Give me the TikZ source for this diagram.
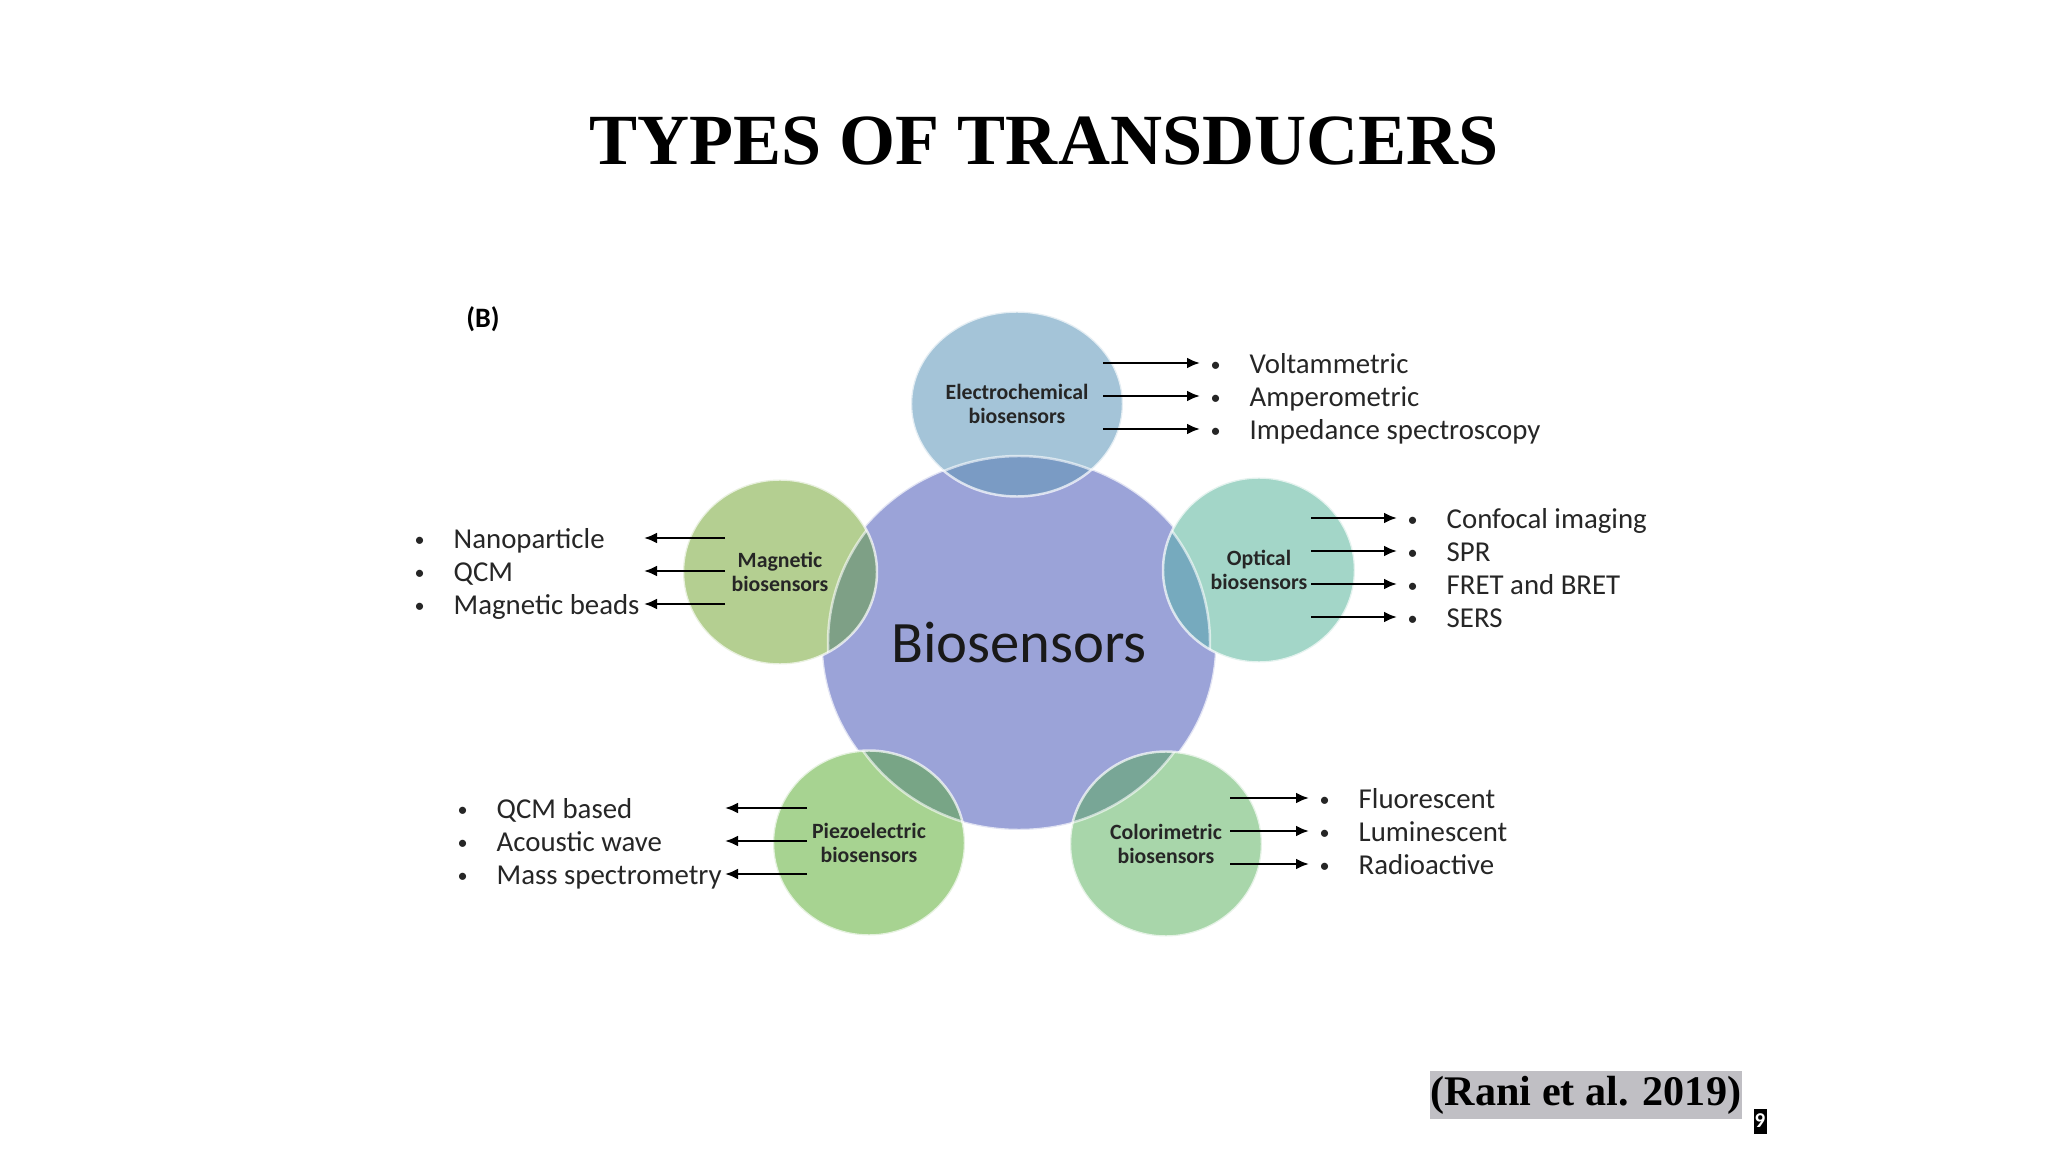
\documentclass[tikz,border=0pt]{standalone}
\usepackage{fontspec}
\setmainfont{Carlito}
\newfontfamily\timesfont{Liberation Serif}
\usetikzlibrary{shapes.geometric,arrows.meta}

\definecolor{corecol}{RGB}{155,163,216}
\definecolor{eleccol}{RGB}{164,196,216}
\definecolor{elecdark}{RGB}{122,155,196}
\definecolor{magcol}{RGB}{180,207,145}
\definecolor{magdark}{RGB}{126,160,134}
\definecolor{optcol}{RGB}{163,214,200}
\definecolor{optdark}{RGB}{118,170,190}
\definecolor{piecol}{RGB}{167,211,145}
\definecolor{piedark}{RGB}{120,165,134}
\definecolor{colcol}{RGB}{168,214,170}
\definecolor{coldark}{RGB}{120,166,150}
\definecolor{citegray}{RGB}{192,191,196}

\tikzset{
  bubble/.style={ellipse, minimum width=1.92cm, minimum height=1.85cm, inner sep=0pt,
    align=center, text=black!85, font=\bfseries\fontsize{6.2}{6.6}\selectfont,
    draw=white, draw opacity=0.7, line width=0.7pt},
  overlap/.style={path picture={
    \fill[#1] (core.center) ellipse [x radius=1.91cm, y radius=1.87cm];
    \draw[white, opacity=0.6, line width=0.7pt] (core.center) ellipse [x radius=1.91cm, y radius=1.87cm];}},
  listitem/.style={anchor=west, inner xsep=0.1cm, inner ysep=0pt, text height=1.5ex, text depth=0.25ex,
    font=\fontsize{8.2}{9.8}\selectfont, text=black!85},
  arr/.style={-{Latex[length=1.3mm,width=1.1mm]}, line width=0.75pt},
}
\newcommand{\blt}[1]{\makebox[0.39cm][l]{\raisebox{0.12ex}{\scalebox{0.7}{\textbullet}}}#1}

\begin{document}
\begin{tikzpicture}
  \fill[white] (0,0) rectangle (20.48,-11.52);
  \useasboundingbox (0,0) rectangle (20.48,-11.52);

  % Title and panel letter
  \node[font=\timesfont\bfseries\fontsize{20.5}{24}\selectfont] (title) at (10.44,-1.41) {TYPES OF TRANSDUCERS};
  \node[font=\bfseries\fontsize{8}{9}\selectfont] (panel) at (4.83,-3.19) {(B)};

  % Central circle
  \node[ellipse, minimum width=3.82cm, minimum height=3.74cm, fill=corecol, draw=white, draw opacity=0.7,
    line width=0.7pt, text=black!90, font=\fontsize{16.7}{20}\selectfont] (core) at (10.19,-6.43) {Biosensors};

  % Transducer circles
  \node[bubble, minimum width=2.12cm, fill=eleccol, overlap=elecdark] (elec) at (10.17,-4.04) {Electrochemical\\biosensors};
  \node[bubble, minimum width=1.94cm, fill=magcol, overlap=magdark] (mag) at (7.80,-5.72) {Magnetic\\biosensors};
  \node[bubble, fill=optcol, overlap=optdark] (opt) at (12.59,-5.70) {Optical\\biosensors};
  \node[bubble, fill=piecol, overlap=piedark] (pie) at (8.69,-8.43) {Piezoelectric\\biosensors};
  \node[bubble, fill=colcol, overlap=coldark] (col) at (11.66,-8.44) {Colorimetric\\biosensors};

  % Electrochemical list
  \coordinate (etail) at (11.03,-4);
  \foreach \t [count=\i] in {Voltammetric, Amperometric, Impedance spectroscopy}{
    \node[listitem] (e\i) at (12.00,{-3.63-0.33*(\i-1)}) {\blt{\t}};
    \draw[arr] (etail |- e\i.west) -- (e\i.west);
  }

  % Optical list
  \coordinate (otail) at (13.11,-5.7);
  \foreach \t [count=\i] in {Confocal imaging, SPR, FRET and BRET, SERS}{
    \node[listitem] (o\i) at (13.97,{-5.18-0.33*(\i-1)}) {\blt{\t}};
    \draw[arr] (otail |- o\i.west) -- (o\i.west);
  }

  % Colorimetric list
  \coordinate (ctail) at (12.30,-8.4);
  \foreach \t [count=\i] in {Fluorescent, Luminescent, Radioactive}{
    \node[listitem] (c\i) at (13.09,{-7.98-0.33*(\i-1)}) {\blt{\t}};
    \draw[arr] (ctail |- c\i.west) -- (c\i.west);
  }

  % Magnetic list
  \coordinate (mtail) at (7.25,-5.7);
  \coordinate (mhead) at (6.44,-5.7);
  \foreach \t [count=\i] in {Nanoparticle, QCM, Magnetic beads}{
    \node[listitem] (m\i) at (4.04,{-5.38-0.33*(\i-1)}) {\blt{\t}};
    \draw[arr] (mtail |- m\i.west) -- (mhead |- m\i.west);
  }

  % Piezoelectric list
  \coordinate (ptail) at (8.07,-8.4);
  \coordinate (phead) at (7.25,-8.4);
  \foreach \t [count=\i] in {QCM based, Acoustic wave, Mass spectrometry}{
    \node[listitem] (p\i) at (4.47,{-8.08-0.33*(\i-1)}) {\blt{\t}};
    \draw[arr] (ptail |- p\i.west) -- (phead |- p\i.west);
  }

  % Citation and page number
  \node[fill=citegray, minimum width=3.12cm, minimum height=0.48cm, inner sep=0pt,
    font=\timesfont\bfseries\fontsize{12}{14}\selectfont] (cite) at (15.86,-10.95) {(Rani et al. 2019)};
  \node[fill=black, text=white, font=\bfseries\fontsize{6}{7}\selectfont, minimum width=0.13cm,
    minimum height=0.25cm, inner sep=0pt] (pageno) at (17.60,-11.21) {9};
\end{tikzpicture}
\end{document}
